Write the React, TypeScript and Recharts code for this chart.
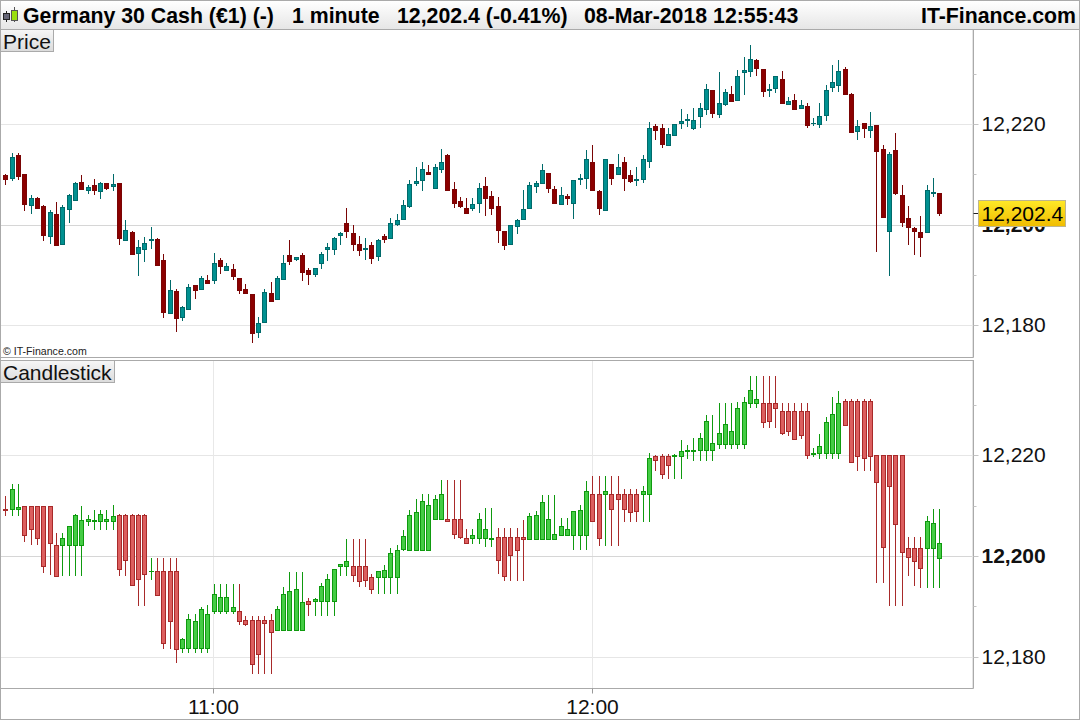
import React from "react";
import { ComposedChart, Bar, XAxis, YAxis, CartesianGrid } from "recharts";

const minutes = [
"10:27","10:28","10:29","10:30","10:31","10:32","10:33","10:34","10:35","10:36",
"10:37","10:38","10:39","10:40","10:41","10:42","10:43","10:44","10:45","10:46",
"10:47","10:48","10:49","10:50","10:51","10:52","10:53","10:54","10:55","10:56",
"10:57","10:58","10:59","11:00","11:01","11:02","11:03","11:04","11:05","11:06",
"11:07","11:08","11:09","11:10","11:11","11:12","11:13","11:14","11:15","11:16",
"11:17","11:18","11:19","11:20","11:21","11:22","11:23","11:24","11:25","11:26",
"11:27","11:28","11:29","11:30","11:31","11:32","11:33","11:34","11:35","11:36",
"11:37","11:38","11:39","11:40","11:41","11:42","11:43","11:44","11:45","11:46",
"11:47","11:48","11:49","11:50","11:51","11:52","11:53","11:54","11:55","11:56",
"11:57","11:58","11:59","12:00","12:01","12:02","12:03","12:04","12:05","12:06",
"12:07","12:08","12:09","12:10","12:11","12:12","12:13","12:14","12:15","12:16",
"12:17","12:18","12:19","12:20","12:21","12:22","12:23","12:24","12:25","12:26",
"12:27","12:28","12:29","12:30","12:31","12:32","12:33","12:34","12:35","12:36",
"12:37","12:38","12:39","12:40","12:41","12:42","12:43","12:44","12:45","12:46",
"12:47","12:48","12:49","12:50","12:51","12:52","12:53","12:54","12:55","12:56",
"12:57","12:58","12:59"];

const priceHigh = [
12210.1,12214.2,12214.2,12210.1,12205.9,12205.5,12203.9,12202.9,12204.5,12203.9,
12206.1,12208.5,12209.9,12208.0,12209.1,12208.5,12208.3,12210.1,12208.4,12200.9,
12198.8,12196.9,12197.6,12199.5,12197.3,12194.1,12189.0,12187.2,12183.8,12188.3,
12188.1,12189.9,12190.1,12194.3,12193.3,12192.4,12192.3,12189.5,12188.2,12186.3,
12181.6,12187.2,12188.6,12189.9,12193.9,12196.9,12193.5,12194.3,12191.5,12191.5,
12194.6,12196.3,12197.5,12198.5,12203.3,12199.9,12197.8,12197.4,12196.5,12197.1,
12198.2,12201.4,12202.1,12205.0,12209.0,12211.4,12212.4,12211.8,12212.0,12215.0,
12214.0,12208.5,12205.5,12205.3,12205.3,12208.4,12209.5,12206.8,12205.5,12198.8,
12200.0,12201.2,12207.0,12208.5,12208.8,12212.0,12210.3,12207.8,12207.5,12206.1,
12209.0,12210.1,12214.8,12215.8,12206.9,12213.0,12212.0,12214.0,12213.4,12210.9,
12211.4,12213.8,12220.4,12220.0,12220.1,12219.2,12220.1,12223.0,12222.0,12223.3,
12224.3,12228.0,12226.8,12230.4,12226.9,12227.5,12230.8,12233.3,12235.7,12232.9,
12230.9,12227.9,12229.5,12230.5,12225.5,12225.9,12224.8,12224.3,12221.3,12224.2,
12227.7,12231.8,12232.7,12231.3,12226.1,12220.9,12220.3,12222.5,12219.9,12215.8,
12214.4,12218.3,12208.0,12203.8,12199.5,12201.8,12208.0,12209.4,12206.4];

const priceOpen = [
12209.9,12209.3,12213.8,12210.1,12203.9,12205.3,12203.8,12197.8,12202.1,12196.2,
12203.2,12204.9,12208.5,12206.9,12207.9,12206.8,12208.3,12207.7,12208.3,12197.0,
12198.5,12194.4,12195.2,12197.0,12197.2,12193.1,12182.4,12186.8,12181.7,12183.2,
12188.1,12187.2,12189.1,12189.1,12193.1,12191.0,12191.3,12189.5,12187.3,12186.3,
12178.7,12180.7,12186.5,12185.2,12189.2,12193.9,12193.2,12193.9,12191.1,12190.2,
12192.4,12195.1,12195.2,12198.0,12200.4,12198.4,12196.1,12195.2,12195.9,12193.8,
12197.8,12197.4,12200.2,12201.2,12203.7,12208.3,12208.9,12210.5,12207.3,12211.0,
12213.8,12207.2,12204.8,12203.4,12203.3,12204.4,12207.8,12205.8,12203.8,12198.8,
12196.2,12199.8,12201.2,12203.4,12207.7,12208.3,12210.2,12207.2,12204.1,12205.8,
12204.3,12209.1,12209.3,12212.4,12206.8,12203.0,12212.0,12210.1,12212.4,12209.8,
12208.9,12209.1,12212.7,12219.7,12219.2,12215.9,12217.8,12220.3,12220.9,12219.3,
12221.7,12223.1,12226.7,12222.1,12224.1,12225.9,12224.9,12230.3,12230.5,12232.7,
12230.9,12226.8,12227.2,12228.9,12224.0,12224.9,12223.3,12223.7,12220.2,12220.1,
12221.9,12227.4,12227.8,12230.9,12225.9,12218.7,12220.3,12218.9,12219.9,12215.0,
12198.8,12214.8,12206.0,12201.4,12199.4,12198.6,12198.6,12206.3,12206.4];

const priceClose = [
12209.1,12213.4,12209.7,12204.1,12205.4,12203.4,12198.0,12202.5,12196.0,12203.5,
12206.0,12208.3,12207.1,12207.5,12206.9,12208.4,12207.3,12208.1,12197.4,12199.0,
12194.2,12195.5,12196.4,12197.1,12192.1,12182.6,12187.1,12181.5,12183.6,12187.6,
12187.0,12189.5,12188.4,12192.5,12191.8,12191.9,12189.8,12187.0,12186.4,12178.5,
12180.5,12186.7,12184.8,12189.5,12192.5,12192.9,12193.5,12190.7,12190.3,12191.5,
12194.1,12195.5,12197.4,12198.4,12198.8,12196.2,12195.0,12195.3,12193.4,12197.0,
12197.2,12200.4,12201.0,12204.0,12208.2,12208.8,12211.0,12210.1,12211.4,12212.4,
12206.9,12204.3,12203.7,12202.4,12204.2,12207.4,12205.3,12203.3,12199.0,12196.0,
12200.0,12201.0,12203.2,12208.0,12208.3,12210.8,12207.3,12204.3,12206.0,12205.3,
12209.0,12209.3,12213.0,12206.9,12203.4,12213.0,12209.3,12211.4,12209.3,12208.7,
12209.1,12213.0,12219.3,12218.9,12216.1,12218.0,12220.1,12220.7,12221.0,12220.9,
12223.3,12226.9,12222.3,12224.3,12226.3,12224.6,12229.5,12230.7,12232.9,12231.2,
12226.6,12227.0,12229.5,12224.3,12224.7,12223.1,12223.9,12219.9,12220.3,12221.7,
12226.7,12228.3,12230.5,12226.0,12218.5,12219.7,12219.3,12219.7,12214.7,12201.6,
12214.0,12206.3,12200.6,12199.6,12198.8,12197.6,12207.0,12206.6,12202.4];

const priceLow = [
12207.9,12208.7,12208.9,12202.7,12202.1,12203.4,12196.7,12196.1,12196.0,12196.2,
12200.3,12204.9,12207.1,12206.1,12205.9,12205.1,12206.9,12206.7,12195.9,12197.0,
12194.2,12189.9,12192.7,12195.1,12191.9,12181.4,12182.2,12178.6,12180.8,12183.2,
12185.2,12187.0,12188.4,12188.3,12190.3,12191.0,12189.1,12186.2,12186.2,12176.5,
12177.4,12180.7,12184.8,12185.2,12189.1,12192.1,12192.8,12188.8,12188.0,12189.7,
12191.3,12192.9,12193.9,12195.9,12197.3,12194.7,12193.7,12193.1,12192.3,12192.9,
12196.4,12197.2,12199.7,12201.0,12203.4,12207.7,12206.7,12209.9,12207.3,12210.3,
12206.9,12203.3,12203.3,12202.4,12202.8,12202.3,12201.7,12202.0,12196.3,12194.9,
12196.2,12198.1,12201.0,12203.2,12206.3,12208.3,12206.3,12204.3,12203.9,12203.9,
12201.1,12207.9,12207.2,12206.9,12201.9,12203.0,12207.9,12209.9,12206.7,12208.3,
12207.7,12208.3,12211.2,12216.8,12215.2,12215.7,12217.7,12219.0,12219.4,12218.9,
12219.2,12221.9,12221.2,12221.2,12223.7,12224.6,12224.7,12225.8,12229.4,12229.6,
12225.4,12225.4,12226.2,12224.0,12223.8,12223.1,12223.0,12219.2,12219.6,12219.3,
12220.6,12226.4,12226.4,12226.0,12218.5,12216.8,12217.3,12217.2,12194.5,12201.6,
12189.9,12205.9,12199.5,12195.9,12193.9,12193.5,12198.6,12205.5,12201.7];

const candleHigh = [
12211.9,12214.3,12214.3,12210.0,12210.0,12210.0,12210.0,12210.0,12204.5,12204.5,
12206.0,12208.4,12210.0,12208.1,12209.1,12209.1,12209.1,12210.1,12208.4,12208.4,
12208.4,12208.4,12208.4,12199.5,12199.5,12199.5,12199.5,12199.5,12183.7,12188.4,
12188.4,12189.8,12190.2,12194.4,12194.4,12194.4,12194.4,12194.4,12188.1,12188.1,
12188.1,12188.1,12188.5,12190.0,12193.9,12196.9,12196.9,12196.9,12191.6,12191.6,
12194.6,12196.4,12197.5,12198.5,12203.3,12203.3,12203.3,12203.3,12196.5,12197.1,
12198.3,12201.5,12202.1,12205.1,12209.1,12211.4,12212.4,12212.4,12212.1,12215.1,
12215.1,12215.1,12215.1,12205.3,12205.3,12208.5,12209.5,12209.5,12205.5,12205.5,
12205.5,12205.5,12207.1,12208.5,12208.9,12212.1,12212.1,12212.1,12207.5,12207.5,
12209.0,12210.1,12214.9,12215.9,12215.9,12215.9,12215.9,12215.9,12213.4,12213.4,
12213.4,12213.9,12220.4,12220.0,12220.2,12220.2,12220.2,12223.0,12222.0,12223.4,
12224.4,12228.0,12228.0,12230.4,12230.4,12230.4,12230.7,12231.7,12235.8,12235.8,
12235.8,12235.8,12235.8,12230.5,12230.5,12230.5,12230.5,12230.5,12221.4,12224.2,
12227.7,12231.7,12232.7,12231.3,12231.3,12231.3,12231.3,12231.3,12220.0,12220.0,
12220.0,12220.0,12220.0,12203.8,12203.8,12203.8,12208.0,12209.4,12209.4];

const candleOpen = [
12209.4,12209.4,12209.4,12210.0,12210.0,12210.0,12210.0,12210.0,12202.1,12202.1,
12202.1,12202.1,12202.1,12207.0,12207.0,12207.0,12207.0,12207.0,12208.2,12208.2,
12208.2,12208.2,12208.2,12197.0,12197.1,12197.1,12197.1,12197.1,12181.8,12181.8,
12181.8,12181.8,12181.8,12189.1,12189.1,12189.1,12189.1,12189.1,12187.3,12187.3,
12187.3,12187.3,12187.3,12185.3,12185.3,12185.3,12185.3,12185.3,12191.1,12191.1,
12191.1,12191.1,12191.1,12198.1,12198.1,12198.1,12198.1,12198.1,12195.9,12195.9,
12195.9,12195.9,12195.9,12201.3,12201.2,12201.2,12201.2,12201.2,12207.4,12207.4,
12207.4,12207.4,12207.4,12203.5,12203.5,12203.5,12203.5,12203.4,12203.8,12203.8,
12203.8,12203.8,12203.8,12203.3,12203.3,12203.3,12203.3,12203.4,12204.2,12204.2,
12204.2,12204.2,12204.2,12212.4,12212.4,12212.4,12212.4,12212.4,12212.4,12212.4,
12212.4,12212.4,12212.4,12219.8,12219.8,12219.8,12219.8,12219.8,12220.9,12220.9,
12221.0,12221.0,12221.0,12222.2,12222.2,12222.2,12222.2,12222.2,12230.5,12230.5,
12230.5,12230.5,12230.5,12228.9,12228.9,12228.9,12228.9,12228.9,12220.2,12220.4,
12220.4,12220.4,12220.4,12230.9,12230.9,12230.9,12230.9,12230.9,12220.0,12220.0,
12220.0,12220.0,12220.0,12201.5,12201.5,12201.5,12201.5,12201.5,12199.5];

const candleClose = [
12209.2,12213.4,12209.8,12204.2,12205.4,12203.5,12198.1,12202.5,12196.1,12203.5,
12206.0,12208.2,12207.2,12207.4,12207.1,12208.4,12207.4,12208.0,12197.5,12199.1,
12194.3,12195.5,12196.5,12197.1,12192.3,12182.7,12187.1,12181.6,12183.5,12187.5,
12187.1,12189.5,12188.5,12192.5,12191.9,12191.9,12189.9,12187.1,12186.5,12178.6,
12180.6,12186.7,12184.9,12189.5,12192.5,12193.1,12193.5,12190.9,12190.4,12191.5,
12194.1,12195.5,12197.5,12198.5,12198.9,12196.3,12195.1,12195.3,12193.5,12197.1,
12197.3,12200.5,12201.1,12204.0,12208.2,12208.8,12211.0,12210.2,12211.4,12212.4,
12207.0,12204.4,12203.8,12202.5,12204.2,12207.4,12205.4,12203.5,12199.1,12196.1,
12200.1,12201.1,12203.3,12208.0,12208.2,12210.8,12207.4,12204.4,12206.0,12205.4,
12209.0,12209.2,12213.0,12207.0,12203.5,12213.0,12209.4,12211.4,12209.4,12208.8,
12209.0,12213.0,12219.4,12219.0,12216.2,12218.0,12220.1,12220.8,12221.0,12221.0,
12223.4,12226.9,12222.4,12224.4,12226.3,12224.8,12229.5,12230.7,12232.9,12231.3,
12226.7,12226.9,12229.5,12224.4,12224.8,12223.2,12224.0,12220.0,12220.4,12221.8,
12226.7,12228.3,12230.5,12226.1,12218.6,12219.8,12219.4,12219.8,12214.8,12201.7,
12214.0,12206.4,12200.7,12199.7,12198.9,12197.7,12207.0,12206.6,12202.5];

const candleLow = [
12207.9,12207.9,12207.9,12202.7,12202.1,12202.1,12196.7,12196.2,12196.1,12196.0,
12196.0,12196.0,12196.0,12206.0,12205.1,12205.1,12205.1,12205.1,12196.0,12196.0,
12194.2,12190.0,12190.0,12195.2,12192.0,12181.5,12181.5,12178.7,12180.8,12180.8,
12180.8,12180.8,12180.8,12188.4,12188.4,12188.4,12188.4,12186.2,12186.1,12176.5,
12176.5,12176.5,12176.5,12185.3,12185.3,12185.3,12185.3,12185.3,12188.1,12188.1,
12188.1,12188.1,12188.1,12196.0,12196.0,12194.8,12193.8,12193.8,12192.4,12192.4,
12192.4,12192.4,12192.4,12201.0,12201.0,12201.0,12201.0,12201.0,12207.4,12207.4,
12207.0,12203.4,12203.4,12202.5,12202.3,12202.3,12201.8,12201.8,12196.4,12195.0,
12195.0,12195.0,12195.0,12203.3,12203.3,12203.3,12203.3,12203.3,12204.0,12204.0,
12201.1,12201.1,12201.1,12207.0,12202.0,12202.0,12202.0,12202.0,12206.8,12206.8,
12206.8,12206.8,12206.8,12216.9,12215.3,12215.3,12215.3,12215.3,12219.2,12218.9,
12218.9,12218.9,12218.9,12221.2,12221.2,12221.2,12221.2,12221.2,12229.4,12229.4,
12225.5,12225.5,12225.5,12224.0,12223.8,12223.2,12223.2,12219.3,12219.7,12219.3,
12219.3,12219.3,12219.3,12226.1,12218.6,12216.9,12216.9,12216.9,12194.6,12194.6,
12190.0,12190.0,12190.0,12196.0,12194.0,12193.6,12193.6,12193.6,12193.6];

const priceTicks = [12230, 12220, 12210, 12200, 12190, 12180];
const lastPrice = 12202.4;
const labelledTicks = [12220, 12200, 12180];
const lightGridValues = [12220, 12180];
const strongGridValues = [12200];
const timeTicks = ["11:00", "12:00"];

const tableFrom = (high: number[], low: number[], open: number[], close: number[]) =>
  minutes.map((t, i) => ({
    t,
    range: high[i] === undefined ? null : [low[i], high[i]],
    high: high[i],
    low: low[i],
    open: open[i],
    close: close[i],
  }));

const priceRows = tableFrom(priceHigh, priceLow, priceOpen, priceClose);
const candleRows = tableFrom(candleHigh, candleLow, candleOpen, candleClose);

const FONT = "'Liberation Sans', Arial, sans-serif";
const fmt = (v: number) => v.toLocaleString("en-US", { minimumFractionDigits: v % 1 ? 1 : 0 });

type Style = { upFill: string; upLine: string; upWick: string; downFill: string; downLine: string; downWick: string };
const PRICE_STYLE: Style = { upFill: "#009090", upLine: "#006a6a", upWick: "#006a6a", downFill: "#8b0000", downLine: "#7a0505", downWick: "#7a0505" };
const CANDLE_STYLE: Style = { upFill: "#44cc44", upLine: "#0f9a0f", upWick: "#0f9a0f", downFill: "#dc5f5f", downLine: "#a82a2a", downWick: "#a82a2a" };

const makeCandle = (st: Style) => (props: any) => {
  const { x, y, width, height, payload } = props;
  if (!payload || payload.high === undefined || !height) return <g />;
  const perUnit = height / (payload.high - payload.low);
  const up = payload.close >= payload.open;
  const bodyHi = Math.max(payload.open, payload.close);
  const bodyLo = Math.min(payload.open, payload.close);
  const c = Math.floor(x + width / 2) + 0.5;
  const top = Math.round(y + (payload.high - bodyHi) * perUnit) + 0.5;
  const bot = Math.round(y + (payload.high - bodyLo) * perUnit) + 0.5;
  const wick = up ? st.upWick : st.downWick;
  return (
    <g>
      <line x1={c} x2={c} y1={Math.round(y)} y2={Math.round(y + height)} stroke={wick} strokeWidth={1} />
      {bot - top < 1 ? (
        <line x1={c - 2.5} x2={c + 2.5} y1={top} y2={top} stroke={wick} strokeWidth={1} />
      ) : (
        <rect x={c - 2} y={top} width={4} height={bot - top} fill={up ? st.upFill : st.downFill} stroke={up ? st.upLine : st.downLine} strokeWidth={1} />
      )}
    </g>
  );
};

const PriceTick = (props: any) => {
  const { x, y, payload } = props;
  const v = payload.value;
  const py = Math.round(y) + 0.5;
  if (v === lastPrice) {
    return (
      <g>
        <defs>
          <linearGradient id="lastGrad" x1="0" y1="0" x2="0" y2="1">
            <stop offset="0" stopColor="#ffe928" />
            <stop offset="1" stopColor="#f0bc00" />
          </linearGradient>
        </defs>
        <line x1={x} x2={x + 5} y1={py} y2={py} stroke="#222" />
        <rect x={x + 5} y={py - 13} width={87} height={26} fill="url(#lastGrad)" stroke="#bdb58f" />
        <text x={x + 8} y={py + 7} fontSize={21} fontFamily={FONT} fill="#000">{fmt(v)}</text>
      </g>
    );
  }
  const labelled = labelledTicks.includes(v);
  return (
    <g>
      <line x1={x} x2={x + (labelled ? 5 : 3)} y1={py} y2={py} stroke="#c4c4c4" />
      {labelled && (
        <text x={x + 8} y={py + 6.5} fontSize={21} fontWeight={v === 12200 ? 700 : 400} fontFamily={FONT} fill="#111">{fmt(v)}</text>
      )}
    </g>
  );
};

const TimeTick = (props: any) => {
  const { x, y, payload } = props;
  const px = Math.floor(x) + 0.5;
  return (
    <g>
      <line x1={px} x2={px} y1={y} y2={y + 5} stroke="#999" />
      <text x={px} y={y + 25} fontSize={21} textAnchor="middle" fontFamily={FONT} fill="#111">{payload.value}</text>
    </g>
  );
};

const gridLine = (color: string) => (p: any) => {
  const vertical = p.x1 === p.x2;
  const x = Math.floor(p.x1) + 0.5;
  const y = Math.round(p.y1) + 0.5;
  return vertical
    ? <line key={p.key} x1={x} x2={x} y1={p.y1} y2={p.y2} stroke={color} />
    : <line key={p.key} x1={p.x1} x2={p.x2} y1={y} y2={y} stroke={color} />;
};

const axisPadding = { left: 1.495, right: 5.575 };

const Panel = ({ rows, style, domain, marginTop, height, showTimes, withLast }: any) => (
  <ComposedChart width={1080} height={height} data={rows} margin={{ top: marginTop, right: 0, bottom: 0, left: 1 }} barCategoryGap={0}>
    <CartesianGrid horizontal={gridLine("#e6e6e6")} vertical={gridLine("#e8e8e8")} horizontalValues={lightGridValues} verticalValues={timeTicks} />
    <CartesianGrid horizontal={gridLine("#d6d6d6")} vertical={false} horizontalValues={strongGridValues} />
    <XAxis
      dataKey="t"
      type="category"
      allowDuplicatedCategory={false}
      ticks={timeTicks}
      interval={0}
      padding={axisPadding}
      height={showTimes ? 31.5 : 2.5}
      tickSize={0}
      tickMargin={0}
      tick={showTimes ? <TimeTick /> : false}
      axisLine={{ stroke: "#aaaaaa" }}
      tickLine={false}
    />
    <YAxis
      orientation="right"
      type="number"
      width={106.5}
      domain={domain}
      allowDataOverflow
      ticks={withLast ? [...priceTicks, lastPrice] : priceTicks}
      interval={0}
      tickSize={0}
      tickMargin={0}
      tick={<PriceTick />}
      axisLine={{ stroke: "#aaaaaa" }}
      tickLine={false}
    />
    <Bar dataKey="range" barSize={5} isAnimationActive={false} shape={makeCandle(style)} />
  </ComposedChart>
);

const hdr: React.CSSProperties = { position: "absolute", top: 4, fontSize: 21.3, fontWeight: 700, lineHeight: "24px", whiteSpace: "nowrap", color: "#000" };
const tag: React.CSSProperties = {
  position: "absolute", left: 1, height: 21, lineHeight: "23px", fontSize: 21, color: "#111", padding: "0 2px", boxSizing: "content-box",
  background: "linear-gradient(#f6f6f6,#dcdcdc)", borderRight: "1px solid #aaa", borderBottom: "1px solid #aaa",
};

export default function App() {
  return (
    <div style={{ position: "absolute", left: 0, top: 0, width: 1080, height: 720, background: "#fff", fontFamily: FONT, overflow: "hidden" }}>
      <div style={{ position: "absolute", left: 0, top: 0, width: 1080, height: 30, boxSizing: "border-box", borderTop: "1px solid #aaa", borderBottom: "1px solid #aaa", background: "linear-gradient(#ffffff,#e6e6e6)" }} />
      <svg style={{ position: "absolute", left: 3, top: 6 }} width={16} height={18}>
        <line x1={3.5} x2={3.5} y1={5} y2={16} stroke="#222" />
        <rect x={0.5} y={7.5} width={6} height={6} fill="#667" stroke="#222" />
        <line x1={11.5} x2={11.5} y1={1} y2={16} stroke="#555" />
        <rect x={8.5} y={4.5} width={6} height={10} fill="#9adf10" stroke="#555" />
      </svg>
      <span style={{ ...hdr, left: 23 }}>Germany 30 Cash (€1) (-)</span>
      <span style={{ ...hdr, left: 292 }}>1 minute</span>
      <span style={{ ...hdr, left: 397 }}>12,202.4 (-0.41%)</span>
      <span style={{ ...hdr, left: 584 }}>08-Mar-2018 12:55:43</span>
      <span style={{ ...hdr, right: 4 }}>IT-Finance.com</span>

      <div style={{ position: "absolute", left: 0, top: 0 }}>
        <Panel rows={priceRows} style={PRICE_STYLE} domain={[12173.62, 12238.72]} marginTop={30} height={360} withLast />
      </div>
      <div style={{ position: "absolute", left: 0, top: 360 }}>
        <Panel rows={candleRows} style={CANDLE_STYLE} domain={[12173.65, 12238.76]} marginTop={1} height={360} showTimes />
      </div>

      <div style={{ ...tag, top: 30 }}>Price</div>
      <div style={{ ...tag, top: 361 }}>Candlestick</div>
      <div style={{ position: "absolute", left: 3, top: 345, fontSize: 10.6, lineHeight: "12px", color: "#222" }}>© IT-Finance.com</div>

      <div style={{ position: "absolute", left: 0, top: 360, width: 974, height: 1, background: "#aaa" }} />
      <div style={{ position: "absolute", left: 972, top: 30, width: 1, height: 327, background: "#e4e4e4" }} />
      <div style={{ position: "absolute", left: 972, top: 361, width: 1, height: 327, background: "#e4e4e4" }} />
      <div style={{ position: "absolute", left: 0, top: 0, width: 1, height: 720, background: "#aaa" }} />
      <div style={{ position: "absolute", left: 1079, top: 0, width: 1, height: 720, background: "#aaa" }} />
      <div style={{ position: "absolute", left: 0, top: 719, width: 1080, height: 1, background: "#aaa" }} />
    </div>
  );
}
